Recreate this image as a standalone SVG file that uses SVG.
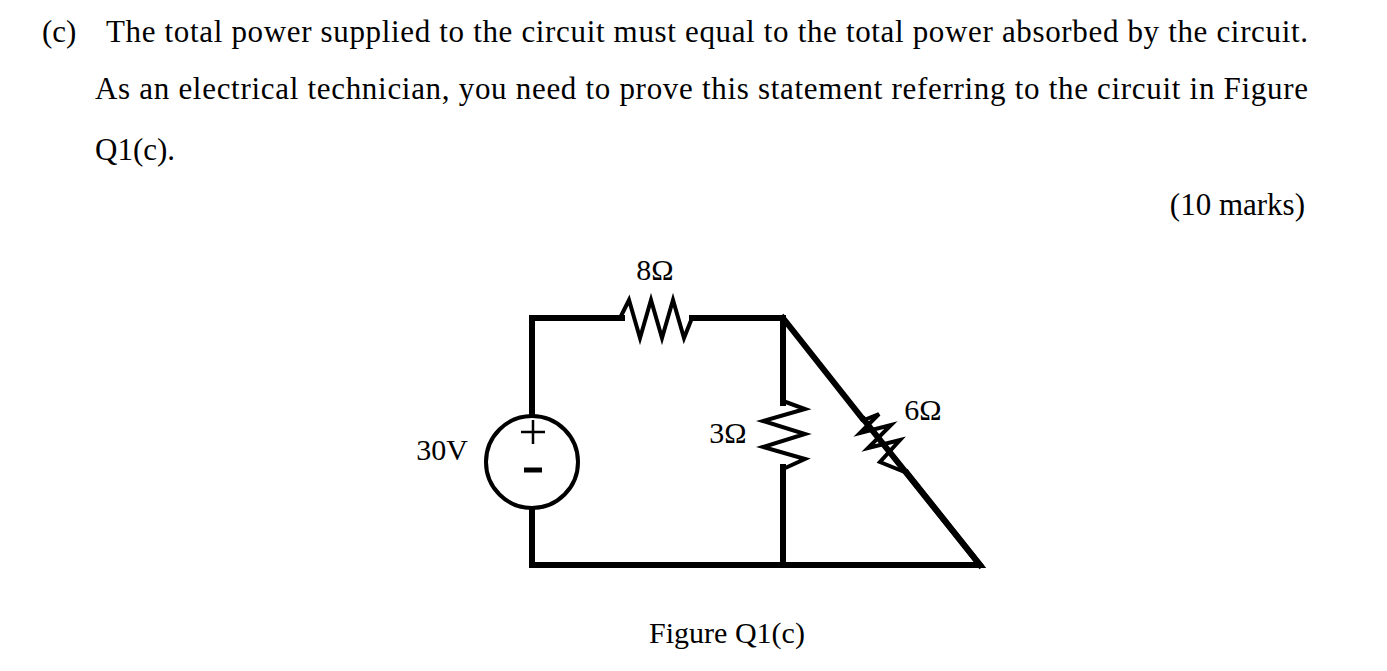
<svg xmlns="http://www.w3.org/2000/svg" width="1387" height="671" viewBox="0 0 1387 671">
<style>
text{font-family:"Liberation Serif","Times New Roman",serif;fill:#000}
.t{font-size:31px}
.l{font-size:30px}
.w{fill:none;stroke:#000;stroke-width:6;stroke-linejoin:miter;stroke-linecap:square}
.r{fill:none;stroke:#000;stroke-width:4;stroke-linejoin:miter}
</style>
<rect width="1387" height="671" fill="#fff"/>
<text class="t" x="42" y="42">(c)</text>
<text class="t" x="106" y="42" textLength="1202" lengthAdjust="spacing">The total power supplied to the circuit must equal to the total power absorbed by the circuit.</text>
<text class="t" x="95" y="99" textLength="1213" lengthAdjust="spacing">As an electrical technician, you need to prove this statement referring to the circuit in Figure</text>
<text class="t" x="95" y="160">Q1(c).</text>
<text class="t" x="1305" y="215" text-anchor="end">(10 marks)</text>
<g id="connectors">
<path class="w" d="M532,415 V318 H622"/>
<path class="w" d="M692,318 H783 V403"/>
<path class="w" d="M783,467 V565"/>
<path class="w" d="M532,508 V565 H980 L864,420"/>
<path class="w" d="M783,318 L862,418"/>
<path class="w" d="M907,473 L980,565"/>
</g>
<g id="R8">
<path class="r" d="M620,318 L629,300 L640,338 L651,300 L662,338 L673,300 L684,338 L692,318"/>
<text class="l" x="655" y="280" text-anchor="middle">8Ω</text>
</g>
<g id="R3">
<path class="r" d="M783,401 L805,409 L763,421 L805,434 L763,447 L805,459 L783,469"/>
<text class="l" x="728" y="443" text-anchor="middle">3Ω</text>
</g>
<g id="R6">
<path class="r" d="M864,420 L879,414 L860,433 L891,425 L868,448 L900,440 L880,462 L907,473"/>
<text class="l" x="923" y="420" text-anchor="middle">6Ω</text>
</g>
<g id="V30">
<ellipse cx="532" cy="462" rx="46" ry="46" fill="#fff" stroke="#000" stroke-width="4"/>
<path d="M521,432 H545 M533,420 V444" stroke="#000" stroke-width="2.5"/>
<path d="M524,470 H542" stroke="#000" stroke-width="5"/>
<text class="l" x="442" y="460" text-anchor="middle">30V</text>
</g>
<text class="l" x="727" y="643" text-anchor="middle">Figure Q1(c)</text>
</svg>
